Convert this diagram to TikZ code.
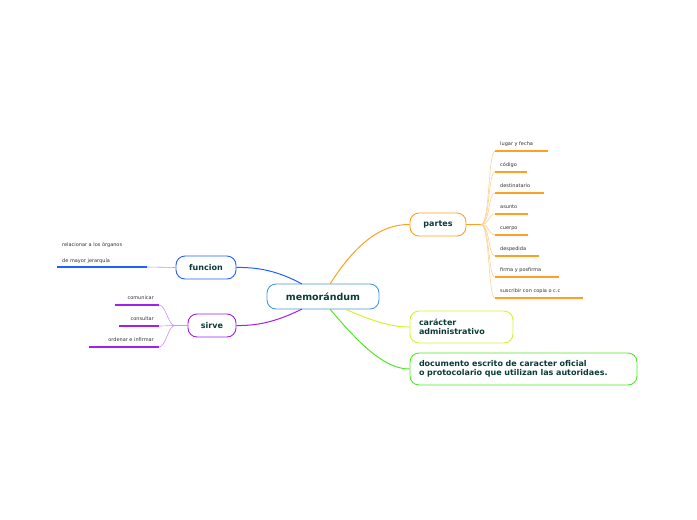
\documentclass[tikz,border=0pt]{standalone}
\usepackage{fontspec}
\setmainfont{DejaVu Sans}
\definecolor{tx}{HTML}{0B3B36}
\definecolor{cblue}{HTML}{4A9AD8}
\definecolor{corange}{HTML}{FFA020}
\definecolor{cyel}{HTML}{D8F030}
\definecolor{cgreen}{HTML}{50E828}
\definecolor{cfun}{HTML}{2060FF}
\definecolor{cpur}{HTML}{A020F0}
\tikzset{
 topic/.style={draw,rounded corners=9pt,line width=0.9pt,font=\bfseries\fontsize{8}{9.5}\selectfont,text=tx,inner sep=0pt,align=left},
 leaf/.style={font=\fontsize{5}{6}\selectfont,text=black!80,inner sep=0pt,anchor=base west},
}
\begin{document}
\begin{tikzpicture}[x=1pt,y=-1pt]
\useasboundingbox (0,0) rectangle (697,520);
% central
\node[topic,draw=cblue,minimum width=112pt,minimum height=25pt,align=center,font=\bfseries\fontsize{9.5}{11}\selectfont] (m) at (323,296.5) {memorándum};
\node[topic,draw=corange,minimum width=56pt,minimum height=23pt,align=center] (p) at (438,224.5) {partes};
\node[topic,draw=cyel,minimum width=103pt,minimum height=32pt,text width=85pt] (c) at (461.5,327) {carácter\\administrativo};
\node[topic,draw=cgreen,minimum width=227pt,minimum height=32pt,text width=209pt] (d) at (523.5,369) {documento escrito de caracter oficial\\o protocolario que utilizan las autoridaes.};
\node[topic,draw=cfun,minimum width=60pt,minimum height=23pt,align=center] (f) at (206,267.5) {funcion};
\node[topic,draw=cpur,minimum width=48pt,minimum height=23pt,align=center] (s) at (212,325.5) {sirve};
% main connectors
\draw[corange,line width=1pt] (330,284) .. controls (355,245) and (380,224) .. (p.west);
\draw[cyel,line width=1pt] (345,309) .. controls (370,320) and (390,327) .. (c.west);
\draw[cgreen,line width=1pt] (330,309) .. controls (360,345) and (385,369) .. (d.west);
\draw[cfun,line width=1pt] (302,284) .. controls (280,272) and (260,267) .. (f.east);
\draw[cpur,line width=1pt] (302,309) .. controls (280,320) and (260,326) .. (s.east);
% partes leaves
\coordinate (ph) at (481,224.5);
\draw[corange,line width=1pt] (p.east) -- (ph);
\foreach \t/\y/\e [count=\i] in {lugar y fecha/151/548,código/172/527,destinatario/193/544,asunto/214/528,cuerpo/235/528,despedida/256/539,firma y posfirma/277/559,suscribir con copia o c.c/298/583}{
  \coordinate (pl\i) at (495,\y);
  \draw[corange!50,line width=0.6pt] (ph) .. controls (490,224.5) and (488,\y) .. (pl\i);
  \draw[corange,line width=1.2pt] (pl\i) -- (\e,\y) coordinate (pe\i);
  \node[leaf] (pt\i) at (500,\y-6) {\t};
}
% funcion leaves
\node[leaf] (f1) at (62,246) {relacionar a los órganos};
\node[leaf] (f2) at (62,262) {de mayor jerarquía};
\coordinate (fl) at (147,267);
\coordinate (fs) at (57,267);
\draw[cfun!50,line width=0.6pt] (f.west) -- (fl);
\draw[cfun,line width=1.2pt] (fl) -- (fs);
% sirve leaves
\coordinate (sh) at (175,325.5);
\draw[cpur!50,line width=0.6pt] (s.west) -- (sh);
\foreach \t/\y/\b [count=\i] in {comunicar/305/115,consultar/326/119,ordenar e infirmar/347/89}{
  \coordinate (sl\i) at (159,\y);
  \draw[cpur!50,line width=0.6pt] (sh) .. controls (168,325.5) and (166,\y) .. (sl\i);
  \draw[cpur,line width=1.2pt] (sl\i) -- (\b,\y);
  \node[leaf,anchor=base east] (st\i) at (154,\y-6) {\t};
}
\end{tikzpicture}
\end{document}
